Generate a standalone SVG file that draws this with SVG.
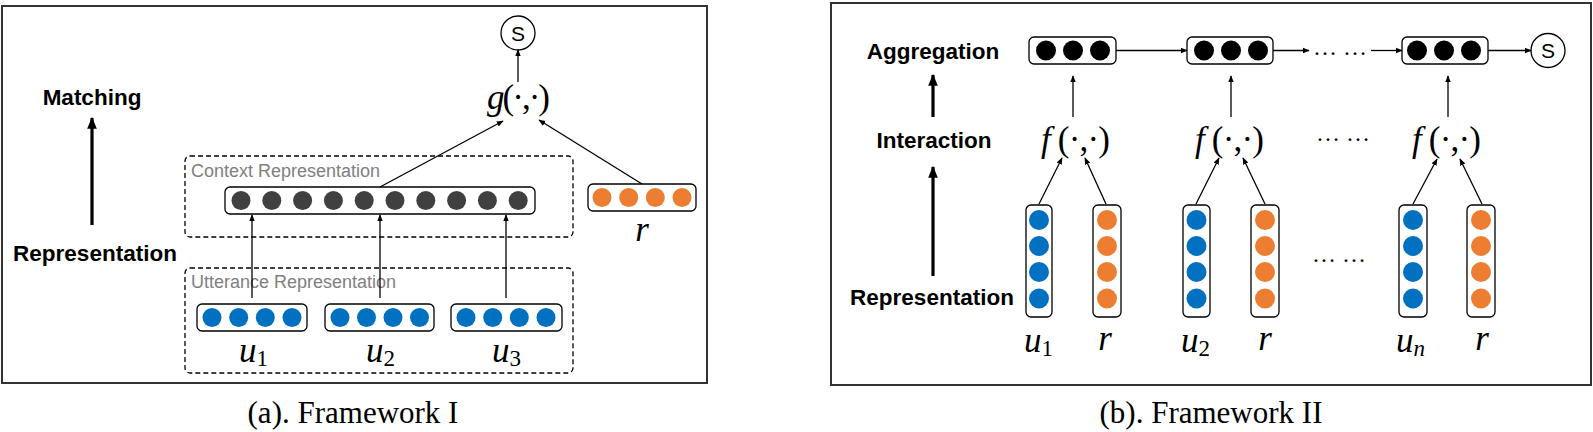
<svg xmlns="http://www.w3.org/2000/svg" width="1593" height="432" viewBox="0 0 1593 432">
<style>
.frame{fill:#fff;stroke:#333;stroke-width:2}
.dash{fill:none;stroke:#000;stroke-width:1.3;stroke-dasharray:5,3}
.bar{fill:#fff;stroke:#000;stroke-width:1.3}
.dk{fill:#404040}
.bk{fill:#000}
.bl{fill:#0070C0}
.or{fill:#ED7D31}
.lbl{font-family:"Liberation Sans",Arial,sans-serif;font-weight:bold;font-size:22.5px;fill:#000}
.grey{font-family:"Liberation Sans",Arial,sans-serif;font-size:18px;fill:#808080}
.math{font-family:"Liberation Serif","Times New Roman",serif;font-size:35px;fill:#000}
.it{font-style:italic}
.sub{font-style:normal;font-size:23px}
.subi{font-style:italic;font-size:23px}
.cap{font-family:"Liberation Serif","Times New Roman",serif;font-size:31px;fill:#000}
.dots{font-family:"Liberation Serif","Times New Roman",serif;font-size:24px;fill:#000}
.s{font-family:"Liberation Sans",Arial,sans-serif;font-size:21px;fill:#000}
.ln{stroke:#000;stroke-width:1.3;fill:none;marker-end:url(#ah)}
.thick{stroke:#000;stroke-width:3.2;fill:none;marker-end:url(#ahb)}
</style>
<defs>
<marker id="ah" viewBox="0 0 10 10" refX="9" refY="5" markerWidth="7" markerHeight="7" markerUnits="userSpaceOnUse" orient="auto"><path d="M0,1 L10,5 L0,9 Z" fill="#000"/></marker>
<marker id="ahb" viewBox="0 0 10 10" refX="9" refY="5" markerWidth="12" markerHeight="12" markerUnits="userSpaceOnUse" orient="auto"><path d="M0,1 L10,5 L0,9 Z" fill="#000"/></marker>
</defs>

<g id="panel-a">
<rect class="frame" x="2" y="6" width="705" height="377"/>
<text class="lbl" x="92" y="105" text-anchor="middle">Matching</text>
<text class="lbl" x="95" y="261" text-anchor="middle">Representation</text>

<g id="context-box">
<rect class="dash" x="185" y="156" width="388" height="81" rx="5"/>
<text class="grey" x="191" y="177">Context Representation</text>
</g>
<g id="utterance-box">
<rect class="dash" x="185" y="268" width="388" height="105" rx="5"/>
<text class="grey" x="191" y="288">Utterance Representation</text>
</g>

<g id="context-vector">
<rect class="bar" x="225" y="187" width="310" height="27" rx="5"/>
<circle class="dk" cx="241" cy="200.5" r="9.5"/>
<circle class="dk" cx="271.8" cy="200.5" r="9.5"/>
<circle class="dk" cx="302.6" cy="200.5" r="9.5"/>
<circle class="dk" cx="333.4" cy="200.5" r="9.5"/>
<circle class="dk" cx="364.2" cy="200.5" r="9.5"/>
<circle class="dk" cx="395" cy="200.5" r="9.5"/>
<circle class="dk" cx="425.8" cy="200.5" r="9.5"/>
<circle class="dk" cx="456.6" cy="200.5" r="9.5"/>
<circle class="dk" cx="487.4" cy="200.5" r="9.5"/>
<circle class="dk" cx="518.2" cy="200.5" r="9.5"/>
</g>

<g id="response-vector-a">
<rect class="bar" x="588" y="184" width="108" height="27" rx="5"/>
<circle class="or" cx="602" cy="197.5" r="9.5"/>
<circle class="or" cx="628.7" cy="197.5" r="9.5"/>
<circle class="or" cx="655.3" cy="197.5" r="9.5"/>
<circle class="or" cx="682" cy="197.5" r="9.5"/>
<text class="math it" x="642" y="241" text-anchor="middle">r</text>
</g>

<g id="u1-a">
<rect class="bar" x="197" y="304" width="110" height="27" rx="5"/>
<circle class="bl" cx="212" cy="317.5" r="9.5"/>
<circle class="bl" cx="238.7" cy="317.5" r="9.5"/>
<circle class="bl" cx="265.3" cy="317.5" r="9.5"/>
<circle class="bl" cx="292" cy="317.5" r="9.5"/>
<text class="math it" x="239" y="362">u<tspan class="sub" dy="4">1</tspan></text>
</g>
<g id="u2-a">
<rect class="bar" x="325" y="304" width="109" height="27" rx="5"/>
<circle class="bl" cx="340" cy="317.5" r="9.5"/>
<circle class="bl" cx="366.5" cy="317.5" r="9.5"/>
<circle class="bl" cx="393" cy="317.5" r="9.5"/>
<circle class="bl" cx="419.5" cy="317.5" r="9.5"/>
<text class="math it" x="366" y="362">u<tspan class="sub" dy="4">2</tspan></text>
</g>
<g id="u3-a">
<rect class="bar" x="451" y="304" width="111" height="27" rx="5"/>
<circle class="bl" cx="466" cy="317.5" r="9.5"/>
<circle class="bl" cx="492.7" cy="317.5" r="9.5"/>
<circle class="bl" cx="519.3" cy="317.5" r="9.5"/>
<circle class="bl" cx="546" cy="317.5" r="9.5"/>
<text class="math it" x="492" y="362">u<tspan class="sub" dy="4">3</tspan></text>
</g>

<g id="g-func">
<text class="math" x="487" y="109" textLength="63"><tspan class="it">g</tspan>(·,·)</text>
</g>
<g id="score-a">
<circle cx="518" cy="33" r="17" fill="#fff" stroke="#000" stroke-width="1.3"/>
<text class="s" x="518" y="40.5" text-anchor="middle">S</text>
</g>

<text class="cap" x="353" y="423" text-anchor="middle">(a). Framework I</text>
</g>

<g id="panel-b">
<rect class="frame" x="831" y="3" width="760" height="382"/>
<text class="lbl" x="933" y="59" text-anchor="middle">Aggregation</text>
<text class="lbl" x="934" y="148" text-anchor="middle">Interaction</text>
<text class="lbl" x="932" y="305" text-anchor="middle">Representation</text>

<g id="agg1">
<rect class="bar" x="1029" y="37" width="87" height="27" rx="5"/>
<circle class="bk" cx="1046" cy="50.5" r="10"/>
<circle class="bk" cx="1073" cy="50.5" r="10"/>
<circle class="bk" cx="1100" cy="50.5" r="10"/>
</g>
<g id="agg2">
<rect class="bar" x="1187" y="37" width="86" height="27" rx="5"/>
<circle class="bk" cx="1204" cy="50.5" r="10"/>
<circle class="bk" cx="1231" cy="50.5" r="10"/>
<circle class="bk" cx="1258" cy="50.5" r="10"/>
</g>
<g id="agg3">
<rect class="bar" x="1402" y="37" width="86" height="27" rx="5"/>
<circle class="bk" cx="1417" cy="50.5" r="10"/>
<circle class="bk" cx="1444" cy="50.5" r="10"/>
<circle class="bk" cx="1471" cy="50.5" r="10"/>
</g>
<g id="score-b">
<circle cx="1548" cy="50.5" r="17" fill="#fff" stroke="#000" stroke-width="1.3"/>
<text class="s" x="1548" y="58" text-anchor="middle">S</text>
</g>
<text class="dots" x="1340" y="55" text-anchor="middle">… …</text>

<g id="f1"><text class="math" x="1041" y="151" textLength="69"><tspan class="it">f</tspan> (·,·)</text></g>
<g id="f2"><text class="math" x="1195" y="151" textLength="69"><tspan class="it">f</tspan> (·,·)</text></g>
<g id="f3"><text class="math" x="1412" y="151" textLength="69"><tspan class="it">f</tspan> (·,·)</text></g>
<text class="dots" x="1343" y="141" text-anchor="middle">… …</text>

<g id="u1-b">
<rect class="bar" x="1026" y="205" width="26" height="112" rx="5"/>
<circle class="bl" cx="1039" cy="220" r="10"/>
<circle class="bl" cx="1039" cy="246" r="10"/>
<circle class="bl" cx="1039" cy="272" r="10"/>
<circle class="bl" cx="1039" cy="298.5" r="10"/>
<text class="math it" x="1024" y="352">u<tspan class="sub" dy="4">1</tspan></text>
</g>
<g id="r1-b">
<rect class="bar" x="1093" y="205" width="28" height="112" rx="5"/>
<circle class="or" cx="1107" cy="220" r="10"/>
<circle class="or" cx="1107" cy="246" r="10"/>
<circle class="or" cx="1107" cy="272" r="10"/>
<circle class="or" cx="1107" cy="298.5" r="10"/>
<text class="math it" x="1105" y="350" text-anchor="middle">r</text>
</g>
<g id="u2-b">
<rect class="bar" x="1183" y="205" width="27" height="112" rx="5"/>
<circle class="bl" cx="1196.5" cy="220" r="10"/>
<circle class="bl" cx="1196.5" cy="246" r="10"/>
<circle class="bl" cx="1196.5" cy="272" r="10"/>
<circle class="bl" cx="1196.5" cy="298.5" r="10"/>
<text class="math it" x="1181" y="352">u<tspan class="sub" dy="4">2</tspan></text>
</g>
<g id="r2-b">
<rect class="bar" x="1251" y="205" width="28" height="112" rx="5"/>
<circle class="or" cx="1265" cy="220" r="10"/>
<circle class="or" cx="1265" cy="246" r="10"/>
<circle class="or" cx="1265" cy="272" r="10"/>
<circle class="or" cx="1265" cy="298.5" r="10"/>
<text class="math it" x="1265" y="350" text-anchor="middle">r</text>
</g>
<text class="dots" x="1339" y="262" text-anchor="middle">… …</text>
<g id="un-b">
<rect class="bar" x="1399" y="205" width="28" height="112" rx="5"/>
<circle class="bl" cx="1413" cy="220" r="10"/>
<circle class="bl" cx="1413" cy="246" r="10"/>
<circle class="bl" cx="1413" cy="272" r="10"/>
<circle class="bl" cx="1413" cy="298.5" r="10"/>
<text class="math it" x="1396" y="352">u<tspan class="subi" dy="4">n</tspan></text>
</g>
<g id="r3-b">
<rect class="bar" x="1467" y="205" width="28" height="112" rx="5"/>
<circle class="or" cx="1481" cy="220" r="10"/>
<circle class="or" cx="1481" cy="246" r="10"/>
<circle class="or" cx="1481" cy="272" r="10"/>
<circle class="or" cx="1481" cy="298.5" r="10"/>
<text class="math it" x="1482" y="350" text-anchor="middle">r</text>
</g>

<text class="cap" x="1211" y="423" text-anchor="middle">(b). Framework II</text>
</g>

<g id="connectors">
<line class="thick" x1="92" y1="225" x2="92" y2="118"/>
<line class="ln" x1="252" y1="298" x2="252" y2="215"/>
<line class="ln" x1="380" y1="298" x2="380" y2="215"/>
<line class="ln" x1="506" y1="298" x2="506" y2="215"/>
<line class="ln" x1="380" y1="187" x2="503" y2="121"/>
<line class="ln" x1="642" y1="184" x2="539" y2="120"/>
<line class="ln" x1="518" y1="82" x2="518" y2="50"/>

<line class="thick" x1="933" y1="117" x2="933" y2="75"/>
<line class="thick" x1="933" y1="276" x2="933" y2="167"/>
<line class="ln" x1="1116" y1="50.5" x2="1187" y2="50.5"/>
<line class="ln" x1="1273" y1="50.5" x2="1309" y2="50.5"/>
<line class="ln" x1="1371" y1="50.5" x2="1402" y2="50.5"/>
<line class="ln" x1="1488" y1="50.5" x2="1531" y2="50.5"/>
<line class="ln" x1="1073" y1="117" x2="1073" y2="76"/>
<line class="ln" x1="1231" y1="117" x2="1231" y2="76"/>
<line class="ln" x1="1448" y1="117" x2="1448" y2="76"/>
<line class="ln" x1="1039" y1="204" x2="1062" y2="158"/>
<line class="ln" x1="1106" y1="204" x2="1085" y2="158"/>
<line class="ln" x1="1196" y1="204" x2="1219" y2="158"/>
<line class="ln" x1="1265" y1="204" x2="1243" y2="158"/>
<line class="ln" x1="1413" y1="204" x2="1437" y2="159"/>
<line class="ln" x1="1482" y1="204" x2="1460" y2="159"/>
</g>
</svg>
